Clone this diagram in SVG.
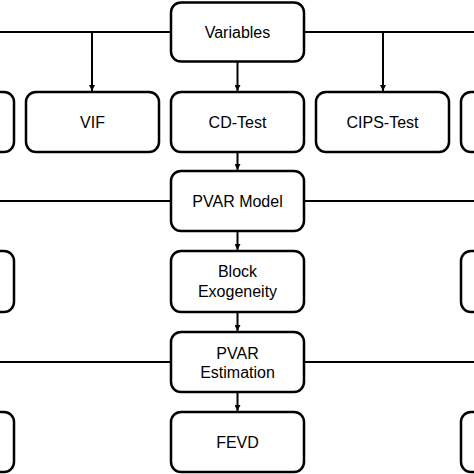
<svg xmlns="http://www.w3.org/2000/svg" width="474" height="474" viewBox="0 0 474 474">
<style>
.box{fill:#fff;stroke:#000;stroke-width:2.5}
.ln{fill:none;stroke:#000;stroke-width:2}
text{font-family:"Liberation Sans",Arial,sans-serif;font-size:16px;fill:#000;text-anchor:middle}
</style>
<defs>
<marker id="ah" viewBox="0 0 6 6" refX="6" refY="3" markerWidth="6" markerHeight="6" markerUnits="userSpaceOnUse" orient="auto">
<path d="M0,0 L6,3 L0,6 z" fill="#000"/>
</marker>
</defs>
<rect width="474" height="474" fill="#fff"/>
<g id="connectors">
<line class="ln" x1="0" y1="32" x2="171" y2="32"/>
<line class="ln" x1="304" y1="32" x2="474" y2="32"/>
<line class="ln" x1="92" y1="32" x2="92" y2="91" marker-end="url(#ah)"/>
<line class="ln" x1="383" y1="32" x2="383" y2="91" marker-end="url(#ah)"/>
<line class="ln" x1="237.5" y1="62" x2="237.5" y2="91" marker-end="url(#ah)"/>
<line class="ln" x1="237.5" y1="152" x2="237.5" y2="170" marker-end="url(#ah)"/>
<line class="ln" x1="0" y1="201" x2="171" y2="201"/>
<line class="ln" x1="304" y1="201" x2="474" y2="201"/>
<line class="ln" x1="237.5" y1="231" x2="237.5" y2="250" marker-end="url(#ah)"/>
<line class="ln" x1="237.5" y1="312" x2="237.5" y2="331" marker-end="url(#ah)"/>
<line class="ln" x1="0" y1="362" x2="171" y2="362"/>
<line class="ln" x1="304" y1="362" x2="474" y2="362"/>
<line class="ln" x1="237.5" y1="392" x2="237.5" y2="411" marker-end="url(#ah)"/>
</g>
<g id="variables"><rect class="box" x="171" y="2.5" width="133" height="59" rx="10"/><text x="237.5" y="38">Variables</text></g>
<g id="left-row2"><rect class="box" x="-120" y="92" width="134" height="60" rx="10"/></g>
<g id="vif"><rect class="box" x="26" y="92" width="133" height="60" rx="10"/><text x="92.5" y="128">VIF</text></g>
<g id="cd-test"><rect class="box" x="171" y="92" width="133" height="60" rx="10"/><text x="237.5" y="128">CD-Test</text></g>
<g id="cips-test"><rect class="box" x="316" y="92" width="133" height="60" rx="10"/><text x="382.5" y="128">CIPS-Test</text></g>
<g id="right-row2"><rect class="box" x="461" y="92" width="134" height="60" rx="10"/></g>
<g id="pvar-model"><rect class="box" x="171" y="171" width="133" height="60" rx="10"/><text x="237.5" y="207">PVAR Model</text></g>
<g id="left-row4"><rect class="box" x="-120" y="251" width="134" height="61" rx="10"/></g>
<g id="block-exogeneity"><rect class="box" x="171" y="251" width="133" height="61" rx="10"/><text x="237.5" y="277">Block</text><text x="237.5" y="297">Exogeneity</text></g>
<g id="right-row4"><rect class="box" x="461" y="251" width="134" height="61" rx="10"/></g>
<g id="pvar-estimation"><rect class="box" x="171" y="332" width="133" height="60" rx="10"/><text x="237.5" y="359">PVAR</text><text x="237.5" y="378">Estimation</text></g>
<g id="left-row6"><rect class="box" x="-120" y="412" width="134" height="60" rx="10"/></g>
<g id="fevd"><rect class="box" x="171" y="412" width="133" height="60" rx="10"/><text x="237.5" y="448">FEVD</text></g>
<g id="right-row6"><rect class="box" x="461" y="412" width="134" height="60" rx="10"/></g>
</svg>
